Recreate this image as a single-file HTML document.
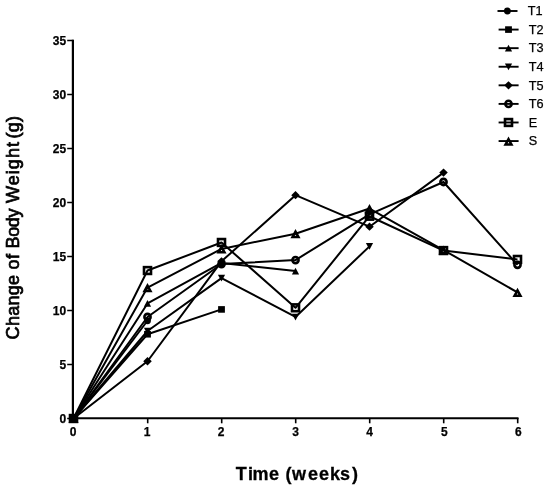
<!DOCTYPE html>
<html><head><meta charset="utf-8"><title>Change of Body Weight</title>
<style>html,body{margin:0;padding:0;background:#fff}svg{display:block}text{font-family:"Liberation Sans",sans-serif;fill:#000}</style></head><body>
<svg width="550" height="489" viewBox="0 0 550 489">
<rect width="550" height="489" fill="#fff"/>
<g stroke="#000" fill="none">
<path d="M72.9 39.7V419" stroke-width="2.2"/>
<path d="M72.3 418.35H518.5" stroke-width="2"/>
<path d="M67.2 418.50H73.5" stroke-width="1.5"/>
<path d="M67.2 364.50H73.5" stroke-width="1.5"/>
<path d="M67.2 310.50H73.5" stroke-width="1.5"/>
<path d="M67.2 256.50H73.5" stroke-width="1.5"/>
<path d="M67.2 202.50H73.5" stroke-width="1.5"/>
<path d="M67.2 148.50H73.5" stroke-width="1.5"/>
<path d="M67.2 94.50H73.5" stroke-width="1.5"/>
<path d="M67.2 40.50H73.5" stroke-width="1.5"/>
<path d="M147.70 418V423.3" stroke-width="1.6"/>
<path d="M221.70 418V423.3" stroke-width="1.6"/>
<path d="M295.70 418V423.3" stroke-width="1.6"/>
<path d="M369.70 418V423.3" stroke-width="1.6"/>
<path d="M443.70 418V423.3" stroke-width="1.6"/>
<path d="M517.70 418V423.3" stroke-width="1.6"/>
</g>
<g font-size="12" font-weight="bold" stroke="#000" stroke-width="0.25">
<text x="66.2" y="422.80" text-anchor="end">0</text>
<text x="66.2" y="368.80" text-anchor="end">5</text>
<text x="66.2" y="314.80" text-anchor="end">10</text>
<text x="66.2" y="260.80" text-anchor="end">15</text>
<text x="66.2" y="206.80" text-anchor="end">20</text>
<text x="66.2" y="152.80" text-anchor="end">25</text>
<text x="66.2" y="98.80" text-anchor="end">30</text>
<text x="66.2" y="44.80" text-anchor="end">35</text>
<text x="73.20" y="435.8" text-anchor="middle">0</text>
<text x="147.20" y="435.8" text-anchor="middle">1</text>
<text x="221.20" y="435.8" text-anchor="middle">2</text>
<text x="295.50" y="435.8" text-anchor="middle">3</text>
<text x="369.60" y="435.8" text-anchor="middle">4</text>
<text x="444.40" y="435.8" text-anchor="middle">5</text>
<text x="518.30" y="435.8" text-anchor="middle">6</text>
</g>
<text x="235.8 248.1 252.6 268.9 279 285.4 292.1 307.9 319.1 329.9 340.0 352.0" y="479.6" font-size="18" font-weight="bold" stroke="#000" stroke-width="0.3">Time (weeks)</text>
<text transform="translate(19.4 338.6) rotate(-90)" font-size="18" stroke="#000" stroke-width="0.7" letter-spacing="0.28"><tspan x="-0.8">Change of </tspan><tspan x="90.1" letter-spacing="-0.35">Body</tspan><tspan x="135.6" letter-spacing="1.05">Weight</tspan><tspan x="200.1">(g)</tspan></text>
<polyline points="73.50,418.50 147.50,320.76" fill="none" stroke="#000" stroke-width="2.0" stroke-linejoin="round"/>
<polyline points="73.50,418.50 147.50,334.26 221.50,309.42" fill="none" stroke="#000" stroke-width="2.0" stroke-linejoin="round"/>
<polyline points="73.50,418.50 147.50,303.48 221.50,262.98 295.50,271.08" fill="none" stroke="#000" stroke-width="2.0" stroke-linejoin="round"/>
<polyline points="73.50,418.50 147.50,331.02 221.50,278.10 295.50,316.98 369.50,246.35" fill="none" stroke="#000" stroke-width="2.0" stroke-linejoin="round"/>
<polyline points="73.50,418.50 147.50,361.26 221.50,261.36 295.50,195.16 369.50,226.69 443.50,172.58" fill="none" stroke="#000" stroke-width="2.0" stroke-linejoin="round"/>
<polyline points="73.50,418.50 147.50,316.98 221.50,264.06 295.50,260.06 369.50,214.38 443.50,181.98 517.50,264.82" fill="none" stroke="#000" stroke-width="2.0" stroke-linejoin="round"/>
<polyline points="73.50,418.50 147.50,270.54 221.50,242.46 295.50,307.80 369.50,216.22 443.50,250.56 517.50,259.42" fill="none" stroke="#000" stroke-width="2.0" stroke-linejoin="round"/>
<polyline points="73.50,418.50 147.50,287.60 221.50,248.94 295.50,233.71 369.50,208.55 443.50,250.02 517.50,292.46" fill="none" stroke="#000" stroke-width="2.0" stroke-linejoin="round"/>
<circle cx="73.50" cy="418.50" r="3.4" fill="#000"/>
<circle cx="147.50" cy="320.76" r="3.4" fill="#000"/>
<rect x="70.10" y="415.20" width="6.8" height="6.6" fill="#000"/>
<rect x="144.10" y="330.96" width="6.8" height="6.6" fill="#000"/>
<rect x="218.10" y="306.12" width="6.8" height="6.6" fill="#000"/>
<polygon points="73.50,415.10 77.10,421.80 69.90,421.80" fill="#000"/>
<polygon points="147.50,300.08 151.10,306.78 143.90,306.78" fill="#000"/>
<polygon points="221.50,259.58 225.10,266.28 217.90,266.28" fill="#000"/>
<polygon points="295.50,267.68 299.10,274.38 291.90,274.38" fill="#000"/>
<polygon points="73.50,421.90 77.10,415.20 69.90,415.20" fill="#000"/>
<polygon points="147.50,334.42 151.10,327.72 143.90,327.72" fill="#000"/>
<polygon points="221.50,281.50 225.10,274.80 217.90,274.80" fill="#000"/>
<polygon points="295.50,320.38 299.10,313.68 291.90,313.68" fill="#000"/>
<polygon points="369.50,249.75 373.10,243.05 365.90,243.05" fill="#000"/>
<polygon points="73.50,414.35 77.75,418.50 73.50,422.65 69.25,418.50" fill="#000"/>
<polygon points="147.50,357.11 151.75,361.26 147.50,365.41 143.25,361.26" fill="#000"/>
<polygon points="221.50,257.21 225.75,261.36 221.50,265.51 217.25,261.36" fill="#000"/>
<polygon points="295.50,191.01 299.75,195.16 295.50,199.31 291.25,195.16" fill="#000"/>
<polygon points="369.50,222.54 373.75,226.69 369.50,230.84 365.25,226.69" fill="#000"/>
<polygon points="443.50,168.43 447.75,172.58 443.50,176.73 439.25,172.58" fill="#000"/>
<circle cx="73.50" cy="418.50" r="3.1" fill="none" stroke="#000" stroke-width="2.6"/>
<circle cx="147.50" cy="316.98" r="3.1" fill="none" stroke="#000" stroke-width="2.6"/>
<circle cx="221.50" cy="264.06" r="3.1" fill="none" stroke="#000" stroke-width="2.6"/>
<circle cx="295.50" cy="260.06" r="3.1" fill="none" stroke="#000" stroke-width="2.6"/>
<circle cx="369.50" cy="214.38" r="3.1" fill="none" stroke="#000" stroke-width="2.6"/>
<circle cx="443.50" cy="181.98" r="3.1" fill="none" stroke="#000" stroke-width="2.6"/>
<circle cx="517.50" cy="264.82" r="3.1" fill="none" stroke="#000" stroke-width="2.6"/>
<rect x="70.00" y="415.10" width="7" height="6.8" fill="none" stroke="#000" stroke-width="2.6"/>
<rect x="144.00" y="267.14" width="7" height="6.8" fill="none" stroke="#000" stroke-width="2.6"/>
<rect x="218.00" y="239.06" width="7" height="6.8" fill="none" stroke="#000" stroke-width="2.6"/>
<rect x="292.00" y="304.40" width="7" height="6.8" fill="none" stroke="#000" stroke-width="2.6"/>
<rect x="366.00" y="212.82" width="7" height="6.8" fill="none" stroke="#000" stroke-width="2.6"/>
<rect x="440.00" y="247.16" width="7" height="6.8" fill="none" stroke="#000" stroke-width="2.6"/>
<rect x="514.00" y="256.02" width="7" height="6.8" fill="none" stroke="#000" stroke-width="2.6"/>
<polygon points="73.50,416.50 76.44,421.85 70.56,421.85" fill="none" stroke="#000" stroke-width="2.5" stroke-linejoin="miter"/>
<polygon points="147.50,285.60 150.44,290.95 144.56,290.95" fill="none" stroke="#000" stroke-width="2.5" stroke-linejoin="miter"/>
<polygon points="221.50,246.94 224.44,252.29 218.56,252.29" fill="none" stroke="#000" stroke-width="2.5" stroke-linejoin="miter"/>
<polygon points="295.50,231.71 298.44,237.06 292.56,237.06" fill="none" stroke="#000" stroke-width="2.5" stroke-linejoin="miter"/>
<polygon points="369.50,206.55 372.44,211.90 366.56,211.90" fill="none" stroke="#000" stroke-width="2.5" stroke-linejoin="miter"/>
<polygon points="443.50,248.02 446.44,253.37 440.56,253.37" fill="none" stroke="#000" stroke-width="2.5" stroke-linejoin="miter"/>
<polygon points="517.50,290.46 520.44,295.81 514.56,295.81" fill="none" stroke="#000" stroke-width="2.5" stroke-linejoin="miter"/>
<path d="M497.50 11.00H517.50" stroke="#000" stroke-width="1.9"/>
<circle cx="507.40" cy="11.00" r="3.4" fill="#000"/>
<text x="527.70" y="15.20" font-size="12.7" stroke="#000" stroke-width="0.25">T1</text>
<path d="M498.60 29.58H518.60" stroke="#000" stroke-width="1.9"/>
<rect x="505.10" y="26.28" width="6.8" height="6.6" fill="#000"/>
<text x="528.80" y="33.78" font-size="12.7" stroke="#000" stroke-width="0.25">T2</text>
<path d="M498.60 48.16H518.60" stroke="#000" stroke-width="1.9"/>
<polygon points="508.50,44.76 512.10,51.46 504.90,51.46" fill="#000"/>
<text x="528.80" y="52.36" font-size="12.7" stroke="#000" stroke-width="0.25">T3</text>
<path d="M498.60 66.74H518.60" stroke="#000" stroke-width="1.9"/>
<polygon points="508.50,70.14 512.10,63.44 504.90,63.44" fill="#000"/>
<text x="528.80" y="70.94" font-size="12.7" stroke="#000" stroke-width="0.25">T4</text>
<path d="M498.60 85.32H518.60" stroke="#000" stroke-width="1.9"/>
<polygon points="508.50,81.17 512.75,85.32 508.50,89.47 504.25,85.32" fill="#000"/>
<text x="528.80" y="89.52" font-size="12.7" stroke="#000" stroke-width="0.25">T5</text>
<path d="M498.60 103.90H518.60" stroke="#000" stroke-width="1.9"/>
<circle cx="508.50" cy="103.90" r="3.1" fill="none" stroke="#000" stroke-width="2.6"/>
<text x="528.80" y="108.10" font-size="12.7" stroke="#000" stroke-width="0.25">T6</text>
<path d="M498.60 122.48H518.60" stroke="#000" stroke-width="1.9"/>
<rect x="505.00" y="119.08" width="7" height="6.8" fill="none" stroke="#000" stroke-width="2.6"/>
<text x="528.80" y="126.68" font-size="12.7" stroke="#000" stroke-width="0.25">E</text>
<path d="M498.60 141.06H518.60" stroke="#000" stroke-width="1.9"/>
<polygon points="508.50,139.06 511.44,144.41 505.56,144.41" fill="none" stroke="#000" stroke-width="2.5" stroke-linejoin="miter"/>
<text x="528.80" y="145.26" font-size="12.7" stroke="#000" stroke-width="0.25">S</text>
</svg></body></html>
